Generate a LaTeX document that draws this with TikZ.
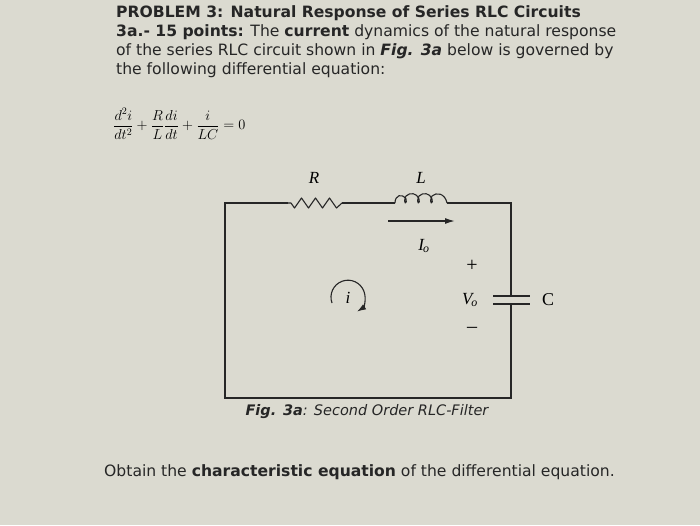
\documentclass[tikz,border=0pt]{standalone}
\usepackage{fontspec}
\setmainfont{DejaVu Sans}
\newfontfamily\serifm{Liberation Serif}
\usetikzlibrary{decorations.pathmorphing,arrows.meta}
\begin{document}
\begin{tikzpicture}[x=1pt,y=-1pt,
  txt/.style={anchor=west,inner sep=0,font=\fontsize{15.6}{16}\selectfont,text=black!85},
  lab/.style={inner sep=0,font=\serifm\itshape\fontsize{17}{18}\selectfont},
  wire/.style={line width=1.1pt,black!85}]
\fill[black!17!white!95!yellow] (0,0) rectangle (700,525);
\node[txt] (t1) at (116,13) {\textbf{PROBLEM 3: Natural Response of Series RLC Circuits}};
\node[txt] (t2) at (116,32) {\textbf{3a.- 15 points:} The \textbf{current} dynamics of the natural response};
\node[txt] (t3) at (116,51) {of the series RLC circuit shown in \textbf{\itshape Fig. 3a} below is governed by};
\node[txt] (t4) at (116,70) {the following differential equation:};
\node[anchor=west,inner sep=0,font=\fontsize{14}{15}\selectfont] (eq) at (113,124)
 {$\displaystyle\frac{d^2i}{dt^2}+\frac{R}{L}\frac{di}{dt}+\frac{i}{LC}=0$};
% circuit
\coordinate (tl) at (225,203); \coordinate (tr) at (511,203);
\coordinate (bl) at (225,398); \coordinate (br) at (511,398);
\coordinate (r1) at (288,203); \coordinate (r2) at (342,203);
\coordinate (l1) at (395,203); \coordinate (l2) at (447,203);
\coordinate (c1) at (511,296); \coordinate (c2) at (511,304);
\draw[wire] (c1) -- (tr) -- (l2);
\draw[wire] (l1) -- (r2);
\draw[wire] (r1) -- (tl) -- (bl) -- (br) -- (c2);
\draw[wire,line join=round] (r1) -- ++(3,0) -- ++(3.5,5) -- ++(7,-10) -- ++(7,10) -- ++(7,-10) -- ++(7,10) -- ++(7,-10) -- ++(7,10) -- (r2);
\draw[wire] (l1) .. controls (395,195) and (402,193) .. (406,199)
  .. controls (408,204) and (402,205) .. (406,196)
  .. controls (410,192) and (417,193) .. (419,199)
  .. controls (421,204) and (415,205) .. (419,196)
  .. controls (423,192) and (430,193) .. (432,199)
  .. controls (434,204) and (428,205) .. (432,196)
  .. controls (436,192) and (445,193) .. (l2);
\draw[wire,line width=1.5pt] (493,296) -- (530,296) (493,304) -- (530,304);
\coordinate (a1) at (388,221); \coordinate (a2) at (455,221);
\draw[wire,line width=1.4pt,-{Latex[length=10pt,width=6pt]}] (a1) -- (a2);
\draw[wire,-{Latex[length=9pt,width=6pt]}] (332,303) arc[start angle=160,end angle=418,radius=17];
\node[lab] (R) at (314,178) {R};
\node[lab] (L) at (421,178) {L};
\node[lab] (Io) at (424,246) {I\textsubscript{\kern-1pt o}};
\node[lab] (i) at (348,298) {i};
\node[inner sep=0,font=\serifm\fontsize{20}{20}\selectfont] (p) at (472,266) {+};
\node[lab] (Vo) at (470,300) {V\textsubscript{\kern-1pt o}};
\node[inner sep=0,font=\serifm\fontsize{20}{20}\selectfont] (m) at (472,330) {–};
\node[inner sep=0,font=\serifm\fontsize{18}{18}\selectfont] (C) at (548,300) {C};
\node[txt,anchor=center,font=\itshape\fontsize{14.5}{15}\selectfont] (cap) at (367,412) {\textbf{Fig. 3a}: Second Order RLC-Filter};
\node[txt] (b) at (104,472) {Obtain the \textbf{characteristic equation} of the differential equation.};
\end{tikzpicture}
\end{document}
